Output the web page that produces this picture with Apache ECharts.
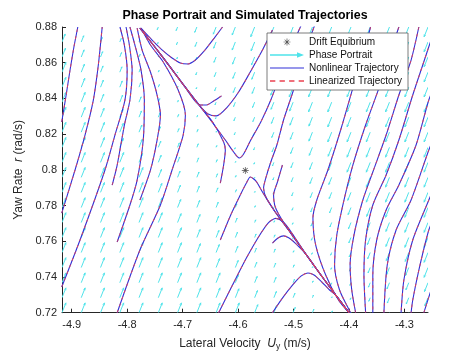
<!DOCTYPE html>
<html><head><meta charset="utf-8">
<script src="https://cdn.jsdelivr.net/npm/echarts@6/dist/echarts.min.js"></script>
<style>html,body{margin:0;padding:0;background:#fff}#c{width:474px;height:355px}</style>
</head><body><div id="c"></div>
<script>
const FONT = 'Liberation Sans, Arial, Helvetica, sans-serif';
// ---- axes / ticks ----
const xRange = [-4.9175, -4.2575];
const yRange = [0.72, 0.88];
const xTicks = [-4.9, -4.8, -4.7, -4.6, -4.5, -4.4, -4.3];
const xTickLabels = ['-4.9', '-4.8', '-4.7', '-4.6', '-4.5', '-4.4', '-4.3'];
const yTicks = [0.72, 0.74, 0.76, 0.78, 0.8, 0.82, 0.84, 0.86, 0.88];
const yTickLabels = ['0.72', '0.74', '0.76', '0.78', '0.8', '0.82', '0.84', '0.86', '0.88'];

// ---- equilibrium ----
const driftEquilibrium = [[-4.587, 0.7997]];

// ---- phase portrait (quiver) grid ----
const quiverX = [-4.9175, -4.8828, -4.8480, -4.8133, -4.7786, -4.7438, -4.7091, -4.6743, -4.6396, -4.6049,
                 -4.5701, -4.5354, -4.5007, -4.4659, -4.4312, -4.3964, -4.3617, -4.3270, -4.2922, -4.2575];
const quiverY = [0.7200, 0.7284, 0.7368, 0.7453, 0.7537, 0.7621, 0.7705, 0.7789, 0.7874, 0.7958,
                 0.8042, 0.8126, 0.8211, 0.8295, 0.8379, 0.8463, 0.8547, 0.8632, 0.8716, 0.8800];
// signed arrow magnitude per grid cell (row = quiverY index), + = up-right, - = down-left
const quiverMag = [
 [11,11,11,11,11,11,11,11,11,11,9,8,6,4,2,-1,-3,-5,-6,-8],
 [11,11,11,11,11,11,11,11,11,10,8,7,5,3,1,-2,-4,-6,-7,-9],
 [11,11,11,11,11,11,11,11,11,9,7,6,4,2,-2,-3,-5,-7,-8,-10],
 [11,11,11,11,11,11,11,11,10,8,6,5,3,1,-2,-4,-6,-8,-9,-11],
 [11,11,11,11,11,11,11,10,9,7,5,4,2,-2,-3,-5,-7,-9,-10,-11],
 [11,11,11,11,11,11,11,9,8,6,4,3,-1,-3,-4,-6,-8,-10,-11,-11],
 [11,11,11,11,11,11,10,9,7,5,3,2,-2,-4,-5,-7,-9,-10,-11,-11],
 [11,11,11,11,11,11,9,8,6,4,2,-1,-3,-5,-6,-8,-10,-11,-11,-11],
 [11,11,11,11,11,10,8,7,5,3,1,-2,-4,-6,-7,-9,-11,-11,-11,-11],
 [11,11,11,11,11,9,7,6,4,2,-1,-3,-5,-7,-8,-10,-11,-11,-11,-11],
 [11,11,11,11,10,8,6,5,3,1,-2,-4,-6,-8,-9,-11,-11,-11,-11,-11],
 [11,11,11,10,9,7,5,4,2,-2,-3,-5,-7,-9,-10,-11,-11,-11,-11,-11],
 [11,11,11,10,8,6,4,3,1,-3,-4,-6,-8,-10,-11,-11,-11,-11,-11,-11],
 [11,11,10,9,7,5,3,2,-2,-4,-5,-7,-9,-10,-11,-11,-11,-11,-11,-11],
 [11,11,9,8,6,4,2,-1,-3,-5,-6,-8,-10,-11,-11,-11,-11,-11,-11,-11],
 [11,10,8,7,5,3,1,-2,-4,-6,-7,-9,-11,-11,-11,-11,-11,-11,-11,-11],
 [11,9,7,6,4,2,-1,-3,-5,-7,-8,-10,-11,-11,-11,-11,-11,-11,-11,-11],
 [10,8,6,5,3,1,-2,-4,-6,-8,-9,-11,-11,-11,-11,-11,-11,-11,-11,-11],
 [9,7,5,4,2,-2,-3,-5,-7,-9,-10,-11,-11,-11,-11,-11,-11,-11,-11,-11],
 [8,6,4,3,1,-3,-4,-6,-8,-9,-11,-11,-11,-11,-11,-11,-11,-11,-11,-11]
];
// data-space step per unit of arrow magnitude (Uy, r)
const quiverDir = [0.000640, 0.000500];

// ---- simulated trajectories [Uy, r] ----
const trajA1 = [[-4.918,0.8268],[-4.910,0.8419],[-4.903,0.8559],[-4.896,0.8688],[-4.889,0.8800]];
const trajA2 = [[-4.918,0.7758],[-4.894,0.7999],[-4.876,0.8195],[-4.861,0.8391],[-4.852,0.8587],[-4.845,0.8800]];
const trajA3 = [[-4.918,0.7344],[-4.885,0.7607],[-4.840,0.7999],[-4.822,0.8195],[-4.804,0.8391],[-4.800,0.8559],[-4.805,0.8699],[-4.813,0.8800]];
const trajA4 = [[-4.827,0.7915],[-4.818,0.8027],[-4.805,0.8251],[-4.795,0.8391],[-4.791,0.8559],[-4.796,0.8699],[-4.802,0.8800]];
const trajA5 = [[-4.818,0.7596],[-4.795,0.7803],[-4.782,0.7943],[-4.771,0.8167],[-4.769,0.8391],[-4.775,0.8559],[-4.786,0.8699],[-4.795,0.8800]];
const trajA6 = [[-4.777,0.7831],[-4.758,0.7999],[-4.746,0.8167],[-4.740,0.8307],[-4.746,0.8419],[-4.758,0.8548],[-4.773,0.8671],[-4.782,0.8794]];
const trajA7 = [[-4.818,0.7200],[-4.777,0.7551],[-4.740,0.7803],[-4.719,0.7999],[-4.699,0.8195],[-4.695,0.8307],[-4.708,0.8447],[-4.735,0.8604],[-4.758,0.8699],[-4.775,0.8794]];
const trajA8 = [[-4.632,0.7926],[-4.626,0.8027],[-4.623,0.8111],[-4.626,0.8156],[-4.646,0.8268],[-4.669,0.8358],[-4.697,0.8470],[-4.724,0.8582],[-4.750,0.8688],[-4.777,0.8794]];
const trajR1 = [[-4.628,0.8800],[-4.643,0.8738],[-4.661,0.8666],[-4.677,0.8615],[-4.690,0.8593],[-4.704,0.8598],[-4.719,0.8626],[-4.735,0.8666],[-4.755,0.8727],[-4.775,0.8794]];
const trajR2 = [[-4.630,0.8414],[-4.644,0.8386],[-4.657,0.8363],[-4.668,0.8363],[-4.697,0.8470],[-4.724,0.8582],[-4.750,0.8688],[-4.777,0.8794]];
const trajR3 = [[-4.538,0.8783],[-4.556,0.8671],[-4.578,0.8548],[-4.599,0.8436],[-4.621,0.8346],[-4.639,0.8302],[-4.654,0.8313],[-4.669,0.8358],[-4.697,0.8470],[-4.724,0.8582],[-4.750,0.8688],[-4.777,0.8794]];
const trajR4 = [[-4.478,0.8867],[-4.502,0.8699],[-4.522,0.8548],[-4.541,0.8391],[-4.559,0.8268],[-4.578,0.8162],[-4.590,0.8089],[-4.598,0.8066],[-4.608,0.8100],[-4.623,0.8167],[-4.647,0.8268],[-4.669,0.8358],[-4.697,0.8470],[-4.724,0.8582],[-4.750,0.8688],[-4.777,0.8794]];
const trajR5 = [[-4.455,0.8867],[-4.478,0.8671],[-4.500,0.8447],[-4.518,0.8279],[-4.530,0.8139],[-4.541,0.8044],[-4.550,0.7954],[-4.554,0.7898],[-4.549,0.7842],[-4.533,0.7764],[-4.505,0.7646],[-4.478,0.7529],[-4.452,0.7417],[-4.424,0.7299],[-4.400,0.7200]];
const trajR6 = [[-4.520,0.8027],[-4.529,0.7932],[-4.536,0.7859],[-4.534,0.7803],[-4.527,0.7753],[-4.505,0.7646],[-4.478,0.7529],[-4.452,0.7417],[-4.424,0.7299],[-4.400,0.7200]];
const trajB1 = [[-4.632,0.7607],[-4.614,0.7742],[-4.596,0.7859],[-4.585,0.7926],[-4.578,0.7960],[-4.568,0.7938],[-4.556,0.7876],[-4.533,0.7764],[-4.505,0.7646],[-4.478,0.7529],[-4.452,0.7417],[-4.424,0.7299],[-4.400,0.7200]];
const trajB2 = [[-4.635,0.7200],[-4.610,0.7355],[-4.585,0.7506],[-4.562,0.7630],[-4.545,0.7705],[-4.532,0.7728],[-4.520,0.7712],[-4.507,0.7664],[-4.478,0.7529],[-4.452,0.7417],[-4.424,0.7299],[-4.400,0.7200]];
const trajB3 = [[-4.538,0.7590],[-4.528,0.7618],[-4.518,0.7630],[-4.508,0.7618],[-4.497,0.7590],[-4.478,0.7529],[-4.452,0.7417],[-4.424,0.7299],[-4.400,0.7200]];
const trajB4 = [[-4.538,0.7200],[-4.520,0.7282],[-4.500,0.7361],[-4.486,0.7406],[-4.474,0.7422],[-4.463,0.7411],[-4.449,0.7372],[-4.435,0.7327],[-4.424,0.7299],[-4.400,0.7200]];
const trajF1 = [[-4.361,0.8800],[-4.370,0.8699],[-4.393,0.8458],[-4.415,0.8223],[-4.438,0.7999],[-4.458,0.7831],[-4.465,0.7730],[-4.460,0.7579],[-4.442,0.7411],[-4.419,0.7271],[-4.400,0.7200]];
const trajF2 = [[-4.310,0.8800],[-4.321,0.8699],[-4.346,0.8458],[-4.370,0.8251],[-4.393,0.8027],[-4.409,0.7831],[-4.422,0.7635],[-4.426,0.7467],[-4.417,0.7327],[-4.397,0.7200]];
const trajF3 = [[-4.274,0.8800],[-4.288,0.8615],[-4.310,0.8419],[-4.333,0.8195],[-4.357,0.7988],[-4.375,0.7831],[-4.391,0.7635],[-4.398,0.7467],[-4.395,0.7327],[-4.388,0.7200]];
const trajF4 = [[-4.249,0.8755],[-4.267,0.8587],[-4.285,0.8419],[-4.310,0.8167],[-4.333,0.7971],[-4.357,0.7803],[-4.370,0.7607],[-4.373,0.7411],[-4.370,0.7200]];
const trajF5 = [[-4.241,0.8503],[-4.256,0.8391],[-4.279,0.8139],[-4.310,0.7915],[-4.333,0.7775],[-4.350,0.7607],[-4.357,0.7411],[-4.357,0.7200]];
const trajF6 = [[-4.241,0.8223],[-4.256,0.8111],[-4.288,0.7831],[-4.315,0.7663],[-4.331,0.7467],[-4.337,0.7200]];
const trajF7 = [[-4.241,0.7943],[-4.256,0.7831],[-4.285,0.7607],[-4.301,0.7383],[-4.306,0.7200]];
const trajF8 = [[-4.241,0.7775],[-4.256,0.7663],[-4.274,0.7439],[-4.285,0.7271],[-4.288,0.7200]];
const trajF9 = [[-4.241,0.7439],[-4.252,0.7327],[-4.265,0.7200]];

const trajectories = [trajA1, trajA2, trajA3, trajA4, trajA5, trajA6, trajA7, trajA8,
  trajR1, trajR2, trajR3, trajR4, trajR5, trajR6, trajB1, trajB2, trajB3, trajB4,
  trajF1, trajF2, trajF3, trajF4, trajF5, trajF6, trajF7, trajF8, trajF9];

// ---- styles ----
const CYAN = '#4fe3ea', BLUE = '#3030d8', RED = '#ea4250', AXIS = '#262626';
const ICON_STAR = 'path://M9,0 L11,0 L11,20 L9,20 Z M0,9 L20,9 L20,11 L0,11 Z M2.5,3.9 L3.9,2.5 L17.5,16.1 L16.1,17.5 Z M16.1,2.5 L17.5,3.9 L3.9,17.5 L2.5,16.1 Z';
const ICON_ARROW = 'path://M0,2 L27,2 L27,0 L34,2.75 L27,5.5 L27,3.5 L0,3.5 Z';
const ICON_LINE = 'path://M0,0 L34,0 L34,1.2 L0,1.2 Z';
const ICON_DASH = 'path://M0,0 L5,0 L5,1.2 L0,1.2 Z M9,0 L14,0 L14,1.2 L9,1.2 Z M18,0 L23,0 L23,1.2 L18,1.2 Z M27,0 L32,0 L32,1.2 L27,1.2 Z';

const quiverData = [];
quiverY.forEach((y, j) => quiverX.forEach((x, i) => quiverData.push([x, y, quiverMag[j][i]])));

function labelOf(ticks, labels) {
  return v => { const k = ticks.findIndex(t => Math.abs(t - v) < 1e-7); return k >= 0 ? labels[k] : ''; };
}

const series = [];
series.push({
  name: 'Phase Portrait', type: 'custom', coordinateSystem: 'cartesian2d', clip: true, silent: true, z: 1,
  itemStyle: {color: CYAN},
  encode: {x: 0, y: 1},
  data: quiverData,
  renderItem: function (params, api) {
    const x = api.value(0), y = api.value(1), m = api.value(2);
    const p0 = api.coord([x, y]);
    const p1 = api.coord([x + m * quiverDir[0], y + m * quiverDir[1]]);
    const dx = p1[0] - p0[0], dy = p1[1] - p0[1];
    const len = Math.sqrt(dx * dx + dy * dy);
    if (len < 0.3) return null;
    const ux = dx / len, uy = dy / len;
    const h = Math.max(1.0, len * 0.22), w = h * 0.38;
    const b = [p1[0] - ux * h, p1[1] - uy * h];
    const l = [b[0] - uy * w, b[1] + ux * w], r = [b[0] + uy * w, b[1] - ux * w];
    return {type: 'group', children: [
      {type: 'polyline', shape: {points: [p0, p1]}, style: {stroke: CYAN, lineWidth: 1, fill: null}},
      {type: 'polyline', shape: {points: [l, p1, r]}, style: {stroke: CYAN, lineWidth: 0.8, fill: null}}
    ]};
  }
});
trajectories.forEach(t => series.push({
  name: 'Nonlinear Trajectory', type: 'line', data: t, showSymbol: false, symbol: 'none', smooth: 0.25,
  clip: true, silent: true, z: 2, color: BLUE, lineStyle: {color: BLUE, width: 1.1}
}));
trajectories.forEach(t => series.push({
  name: 'Linearized Trajectory', type: 'line', data: t, showSymbol: false, symbol: 'none', smooth: 0.25,
  clip: true, silent: true, z: 3, color: RED, lineStyle: {color: RED, width: 0.9, type: [3, 4]}
}));
series.push({
  name: 'Drift Equibrium', type: 'scatter', data: driftEquilibrium, symbol: ICON_STAR, symbolSize: 7,
  z: 5, silent: true, itemStyle: {color: '#222'}
});

const chart = echarts.init(document.getElementById('c'), null, {renderer: 'canvas'});
chart.setOption({
  animation: false,
  backgroundColor: '#fff',
  title: {
    text: 'Phase Portrait and Simulated Trajectories', left: 245, top: 10, textAlign: 'center', padding: 0,
    textStyle: {fontSize: 12.4, fontWeight: 'bold', color: '#000', fontFamily: FONT}
  },
  grid: {left: 62, right: 46, top: 27, bottom: 42.3, containLabel: false, outerBoundsMode: 'none'},
  legend: {
    orient: 'vertical', left: 267, top: 33, padding: [4, 6, 4, 3], itemGap: 3, itemWidth: 34, itemHeight: 7,
    backgroundColor: '#fff', borderColor: '#5a5a5a', borderWidth: 0.8, borderRadius: 0, z: 10,
    selectedMode: false,
    textStyle: {fontSize: 10, lineHeight: 10, color: '#111', fontFamily: FONT},
    itemStyle: {borderWidth: 0},
    data: [
      {name: 'Drift Equibrium', icon: ICON_STAR, itemStyle: {color: '#222', borderWidth: 0}},
      {name: 'Phase Portrait', icon: ICON_ARROW, itemStyle: {color: CYAN, borderWidth: 0}},
      {name: 'Nonlinear Trajectory', icon: ICON_LINE, itemStyle: {color: BLUE, borderWidth: 0}},
      {name: 'Linearized Trajectory', icon: ICON_DASH, itemStyle: {color: RED, borderWidth: 0}}
    ]
  },
  xAxis: {
    type: 'value', min: xRange[0], max: xRange[1],
    name: 'Lateral Velocity  {i|U}{s|y} (m/s)', nameLocation: 'middle', nameGap: 22,
    nameTextStyle: {fontSize: 12, color: AXIS, fontFamily: FONT, lineHeight: 16,
      rich: {i: {fontStyle: 'italic', fontSize: 12, color: AXIS, fontFamily: FONT, lineHeight: 16},
             s: {fontSize: 8.5, color: AXIS, fontFamily: FONT, lineHeight: 8, verticalAlign: 'bottom'}}},
    axisLine: {show: true, onZero: false, lineStyle: {color: AXIS, width: 1}},
    axisTick: {show: true, inside: true, length: 4, customValues: xTicks, lineStyle: {color: AXIS}},
    axisLabel: {customValues: xTicks, margin: 7, fontSize: 11, color: AXIS, fontFamily: FONT, formatter: labelOf(xTicks, xTickLabels)},
    splitLine: {show: false}
  },
  yAxis: {
    type: 'value', min: yRange[0], max: yRange[1],
    name: 'Yaw Rate  {i|r} (rad/s)', nameLocation: 'middle', nameGap: 35,
    nameTextStyle: {fontSize: 12, color: AXIS, fontFamily: FONT,
      rich: {i: {fontStyle: 'italic', fontSize: 12, color: AXIS, fontFamily: FONT}}},
    axisLine: {show: true, onZero: false, lineStyle: {color: AXIS, width: 1}},
    axisTick: {show: true, inside: true, length: 4, customValues: yTicks, lineStyle: {color: AXIS}},
    axisLabel: {customValues: yTicks, margin: 5, fontSize: 11, color: AXIS, fontFamily: FONT, formatter: labelOf(yTicks, yTickLabels)},
    splitLine: {show: false}
  },
  series: series
});
</script></body></html>
